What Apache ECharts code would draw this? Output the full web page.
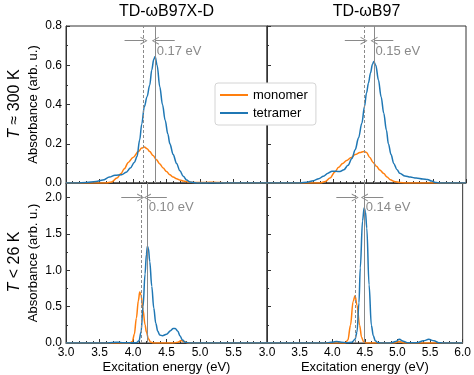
<!DOCTYPE html>
<html>
<head>
<meta charset="utf-8">
<script src="https://cdn.jsdelivr.net/npm/echarts@6/dist/echarts.min.js"></script>
<style>
  html, body { margin: 0; padding: 0; background: #fff; }
  #chart { width: 474px; height: 375px; }
</style>
</head>
<body>
<div id="chart"></div>
<script>
// spectra: [excitation energy (eV), absorbance (arb. u.)]
// top row: T ≈ 300 K, bottom row: T < 26 K; left: TD-ωB97X-D, right: TD-ωB97
const tlMon = [[3.0,0],[3.6,0],[3.68,0.005],[3.76,0.025],[3.82,0.048],[3.87,0.072],[3.93,0.105],[4.0,0.13],[4.08,0.16],[4.13,0.178],[4.17,0.183],[4.21,0.175],[4.25,0.16],[4.3,0.14],[4.35,0.118],[4.4,0.097],[4.45,0.076],[4.5,0.058],[4.55,0.042],[4.6,0.03],[4.65,0.022],[4.7,0.015],[4.75,0.01],[4.85,0.004],[4.95,0.002],[5.1,0.003],[5.2,0.004],[5.3,0.002],[5.4,0],[6.0,0]];
const tlTet = [[3.0,0],[3.15,0],[3.3,0.003],[3.45,0.008],[3.55,0.015],[3.65,0.03],[3.73,0.04],[3.83,0.042],[3.9,0.055],[3.96,0.076],[4.02,0.105],[4.06,0.135],[4.1,0.22],[4.13,0.3],[4.17,0.39],[4.21,0.44],[4.25,0.5],[4.28,0.576],[4.31,0.63],[4.33,0.644],[4.36,0.6],[4.4,0.49],[4.44,0.4],[4.48,0.32],[4.52,0.25],[4.55,0.2],[4.6,0.145],[4.65,0.1],[4.7,0.062],[4.75,0.034],[4.8,0.015],[4.85,0.005],[4.95,0],[6.0,0]];
const trMon = [[3.0,0],[3.8,0],[3.88,0.008],[3.95,0.025],[4.02,0.055],[4.08,0.08],[4.14,0.1],[4.2,0.115],[4.27,0.13],[4.33,0.145],[4.4,0.155],[4.46,0.161],[4.5,0.155],[4.55,0.13],[4.6,0.105],[4.65,0.085],[4.7,0.066],[4.76,0.048],[4.81,0.03],[4.86,0.017],[4.92,0.008],[5.0,0.003],[5.1,0],[6.0,0]];
const trTet = [[3.0,0],[3.5,0],[3.6,0.004],[3.7,0.012],[3.78,0.022],[3.85,0.034],[3.92,0.05],[3.98,0.06],[4.04,0.06],[4.1,0.058],[4.16,0.068],[4.22,0.09],[4.28,0.125],[4.33,0.17],[4.38,0.23],[4.43,0.305],[4.47,0.39],[4.5,0.458],[4.53,0.51],[4.56,0.56],[4.59,0.605],[4.61,0.619],[4.64,0.6],[4.68,0.525],[4.72,0.44],[4.76,0.356],[4.8,0.27],[4.83,0.2],[4.87,0.145],[4.91,0.1],[4.96,0.068],[5.0,0.05],[5.08,0.036],[5.16,0.03],[5.25,0.025],[5.35,0.02],[5.42,0.018],[5.48,0.01],[5.55,0.002],[5.6,0],[6.0,0]];
const blMon = [[3.0,0],[3.95,0],[3.99,0.02],[4.02,0.12],[4.05,0.34],[4.08,0.58],[4.1,0.7],[4.12,0.66],[4.15,0.45],[4.18,0.25],[4.2,0.15],[4.23,0.06],[4.26,0.015],[4.3,0],[4.6,0],[4.67,0.01],[4.72,0.035],[4.76,0.02],[4.82,0],[6.0,0]];
const blTet = [[3.0,0],[3.6,0],[3.7,0.008],[3.78,0.01],[3.85,0.004],[3.95,0.002],[4.05,0.005],[4.09,0.03],[4.12,0.15],[4.15,0.5],[4.18,0.95],[4.2,1.22],[4.215,1.33],[4.23,1.3],[4.25,1.12],[4.28,0.78],[4.31,0.48],[4.34,0.27],[4.37,0.16],[4.4,0.11],[4.44,0.1],[4.5,0.12],[4.56,0.17],[4.6,0.2],[4.63,0.2],[4.67,0.16],[4.7,0.1],[4.74,0.04],[4.78,0.01],[4.85,0],[6.0,0]];
const brMon = [[3.0,0],[4.2,0],[4.24,0.04],[4.28,0.245],[4.32,0.57],[4.35,0.65],[4.38,0.52],[4.42,0.245],[4.45,0.08],[4.48,0.02],[4.52,0],[4.95,0],[5.03,0.02],[5.1,0],[6.0,0]];
const brTet = [[3.0,0],[3.9,0],[3.98,0.01],[4.06,0.02],[4.14,0.012],[4.22,0.005],[4.3,0.01],[4.35,0.05],[4.38,0.15],[4.41,0.55],[4.43,1.03],[4.465,1.68],[4.49,1.86],[4.51,1.8],[4.53,1.58],[4.565,0.8],[4.6,0.245],[4.63,0.1],[4.66,0.03],[4.7,0.005],[4.75,0],[4.9,0],[4.97,0.02],[5.03,0.05],[5.09,0.025],[5.15,0.005],[5.3,0.005],[5.4,0.03],[5.48,0.05],[5.56,0.03],[5.63,0.005],[5.7,0],[6.0,0]];

// peak positions (eV) and the shift between them
const monPeak = [4.164, 4.463, 4.115, 4.353];
const tetPeak = [4.333, 4.614, 4.215, 4.493];
const shiftLabels = ['0.17 eV', '0.15 eV', '0.10 eV', '0.14 eV'];

const methods = ['TD-ωB97X-D', 'TD-ωB97'];
const temps = ['{i|T} ≈ 300 K', '{i|T} < 26 K'];

const blue = '#1f77b4', orange = '#ff7f0e', gray = '#8a8a8a', frame = '#333';
const monData = [tlMon, trMon, blMon, brMon];
const tetData = [tlTet, trTet, blTet, brTet];
const font = '"Liberation Sans", Arial, sans-serif';

// open "->" style arrow head
const chevron = 'path://M5,0 L10,10 L8.6,10 L5,2.4 L1.4,10 L0,10 Z';

const grids = [
  { left: 66, top: 26, width: 201, height: 157 },
  { left: 267, top: 26, width: 199, height: 157 },
  { left: 66, top: 183, width: 201, height: 160 },
  { left: 267, top: 183, width: 199, height: 160 }
];

const chart = echarts.init(document.getElementById('chart'));

const xAxes = grids.map((g, i) => {
  const bottom = i >= 2;
  return {
    gridIndex: i, type: 'value', min: 3, max: 6, interval: 0.5,
    axisLine: { lineStyle: { color: frame } },
    axisTick: { inside: true, length: 4, lineStyle: { color: frame } },
    minorTick: { show: true, splitNumber: 5, length: 2, lineStyle: { color: frame } },
    splitLine: { show: false },
    axisLabel: { show: bottom, formatter: v => v.toFixed(1), fontSize: 12, color: '#000', margin: 4, showMaxLabel: i === 3 },
    name: bottom ? 'Excitation energy (eV)' : '',
    nameLocation: 'middle', nameGap: 18,
    nameTextStyle: { fontSize: 13, color: '#000' }
  };
});

const yAxes = grids.map((g, i) => {
  const top = i < 2, left = i % 2 === 0;
  return {
    gridIndex: i, type: 'value', min: 0, max: top ? 0.8 : 2.2, interval: top ? 0.2 : 0.5,
    axisLine: { lineStyle: { color: frame } },
    axisTick: { inside: true, length: 4, lineStyle: { color: frame } },
    minorTick: { show: true, splitNumber: 2, length: 2, lineStyle: { color: frame } },
    splitLine: { show: false },
    axisLabel: { show: left, formatter: v => v.toFixed(1), fontSize: 12, color: '#000', margin: 4, showMaxLabel: top },
    name: left ? 'Absorbance (arb. u.)' : '',
    nameLocation: 'middle', nameGap: 26,
    nameTextStyle: { fontSize: 13, color: '#000' }
  };
});

const series = [];
grids.forEach((g, i) => {
  const top = i < 2;
  const ay = top ? 0.725 : 2.0;
  const ty = top ? 0.668 : 1.86;
  series.push({
    name: 'monomer', type: 'line', xAxisIndex: i, yAxisIndex: i,
    data: monData[i], symbol: 'none', smooth: 0.35, smoothMonotone: 'x',
    lineStyle: { color: orange, width: 1.5 }, itemStyle: { color: orange },
    markLine: {
      silent: true, symbol: 'none', label: { show: false },
      lineStyle: { color: gray, width: 1 },
      data: [
        { xAxis: monPeak[i], lineStyle: { type: [3, 2] } },
        { xAxis: tetPeak[i], lineStyle: { type: 'solid' } }
      ]
    }
  });
  series.push({
    name: 'tetramer', type: 'line', xAxisIndex: i, yAxisIndex: i,
    data: tetData[i], symbol: 'none', smooth: 0.35, smoothMonotone: 'x',
    lineStyle: { color: blue, width: 1.5 }, itemStyle: { color: blue },
    markLine: {
      silent: true, symbol: ['none', chevron], symbolSize: [8, 7],
      label: { show: false },
      lineStyle: { color: gray, width: 1, type: 'solid' },
      data: [
        [{ coord: [monPeak[i] - 0.29, ay] }, { coord: [monPeak[i], ay] }],
        [{ coord: [tetPeak[i] + 0.29, ay] }, { coord: [tetPeak[i], ay] }]
      ]
    },
    markPoint: {
      silent: true, symbolSize: 0,
      data: [{
        coord: [tetPeak[i] + 0.02, ty],
        label: { show: true, position: 'right', distance: 0, formatter: shiftLabels[i], color: gray, fontSize: 13 }
      }]
    }
  });
});

const option = {
  animation: false,
  textStyle: { fontFamily: font },
  grid: grids.map(g => Object.assign({ show: true, borderColor: frame, borderWidth: 1 }, g)),
  xAxis: xAxes,
  yAxis: yAxes,
  legend: {
    data: ['monomer', 'tetramer'], orient: 'vertical', left: 215, top: 83,
    icon: 'rect', itemWidth: 28, itemHeight: 2, itemGap: 4, padding: [5, 8, 5, 5],
    backgroundColor: '#fff', borderColor: '#d4d4d4', borderWidth: 1, borderRadius: 3,
    textStyle: { fontSize: 13, color: '#000', lineHeight: 14 }, selectedMode: false
  },
  graphic: [
    { type: 'text', x: 166.5, y: 12, style: { text: methods[0], fontSize: 16, fill: '#000', align: 'center', verticalAlign: 'middle', fontFamily: font } },
    { type: 'text', x: 366.5, y: 12, style: { text: methods[1], fontSize: 16, fill: '#000', align: 'center', verticalAlign: 'middle', fontFamily: font } },
    { type: 'text', x: 15, y: 104, rotation: Math.PI / 2, style: { text: temps[0], fontSize: 16, fill: '#000', align: 'center', verticalAlign: 'middle', fontFamily: font, rich: { i: { fontStyle: 'italic', fontSize: 16 } } } },
    { type: 'text', x: 15, y: 262, rotation: Math.PI / 2, style: { text: temps[1], fontSize: 16, fill: '#000', align: 'center', verticalAlign: 'middle', fontFamily: font, rich: { i: { fontStyle: 'italic', fontSize: 16 } } } }
  ],
  series: series
};

chart.setOption(option);
</script>
</body>
</html>
